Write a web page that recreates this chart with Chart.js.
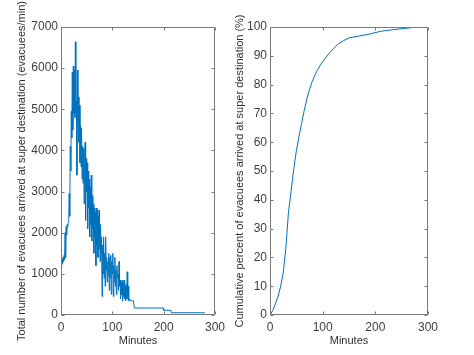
<!DOCTYPE html>
<html>
<head>
<meta charset="utf-8">
<script src="https://cdn.jsdelivr.net/npm/chart.js@4.4.1/dist/chart.umd.min.js"></script>
<style>
html,body{margin:0;padding:0;background:#fff;}
#wrap{position:relative;width:474px;height:355px;overflow:hidden;}
#c1{position:absolute;left:0;top:0;}
#c2{position:absolute;left:230px;top:0;}
</style>
</head>
<body>
<div id="wrap">
<canvas id="c1" width="230" height="355"></canvas>
<canvas id="c2" width="244" height="355"></canvas>
</div>
<script>
// ---- Left panel: arrivals per minute ----
const rateMinutes = [
  0,1,2,3,4,5,6,7,8,9,10,11,12,13,14,15,16,17,18,19,
  20,21,22,23,24,25,26,27,28,29,30,31,32,33,34,35,36,37,38,39,
  40,41,42,43,44,45,46,47,48,49,50,51,52,53,54,55,56,57,58,59,
  60,61,62,63,64,65,66,67,68,69,70,71,72,73,74,75,76,77,78,79,
  80,81,82,83,84,85,86,87,88,89,90,91,92,93,94,95,96,97,98,99,
  100,101,102,103,104,105,106,107,108,109,110,111,112,113,114,115,116,117,118,119,
  120,121,122,123,124,125,126,127,128,129,130,131,132,133,134,135,136,137,138,139,
  140,141,142,143,199,200,214,215,280
];
const rateValues = [
  0,1100,1350,1250,1400,1300,1450,1350,2000,1400,2150,1950,2200,2150,2250,2300,2950,2400,4100,3500,
  4950,4300,5900,4500,6050,4900,5950,4800,6640,4900,5200,3400,5950,4700,5300,4200,5100,3700,4600,3600,
  4550,3300,4100,3200,4050,2700,3950,4200,2300,3800,3000,3700,2100,3500,2600,3300,1900,3100,2200,3400,
  1800,2900,2100,2700,1500,2600,1900,2500,1200,2600,1700,2550,1400,2400,1600,2550,1300,2200,1500,1900,
  450,1700,1000,1900,900,1500,700,1900,1100,1400,800,1300,950,1500,600,1400,900,1450,500,1300,
  1000,1500,450,1200,800,1400,700,1100,500,1200,900,1000,600,1300,700,850,400,800,500,850,
  350,800,450,850,400,700,350,750,400,1050,400,700,350,360,380,350,355,350,350,350,
  345,340,340,170,170,115,115,55,55
];
const rateYTicks = [0,1000,2000,3000,4000,5000,6000,7000];
const minuteTicks = [0,100,200,300];

// ---- Right panel: cumulative percent ----
const cumMinutes = [0,5,10,15,20,25,30,35,40,45,50,55,60,65,70,75,80,85,90,95,100,110,120,130,140,150,170,190,210,230,250,270,282];
const cumPercent = [0,1.5,3.8,6.3,9.8,14.5,23,35.5,43,50.5,57,62,66.5,71,75,78.3,81,83.2,85,86.6,88,90.4,92.4,94.2,95.3,96.2,96.9,97.6,98.5,99,99.4,99.8,100];
const cumYTicks = [0,10,20,30,40,50,60,70,80,90,100];

const LINE = '#0072BD';
const TICKC = '#404040';
const FRAME = '#7a7a7a';
const FONT = '"Liberation Sans", Arial, Helvetica, sans-serif';

const boxPlugin = {
  id: 'box',
  afterDraw(chart) {
    const {ctx, chartArea: a, scales} = chart;
    ctx.save();
    ctx.strokeStyle = FRAME;
    ctx.lineWidth = 1;
    ctx.beginPath();
    const L = Math.round(a.left) + 0.5, R = Math.round(a.right) - 0.5;
    const T = Math.round(a.top) + 0.5, B = Math.round(a.bottom) - 0.5;
    ctx.rect(L, T, R - L, B - T);
    const len = 3;
    scales.x.ticks.forEach(t => {
      const x = Math.round(scales.x.getPixelForValue(t.value)) + 0.5;
      ctx.moveTo(x, B); ctx.lineTo(x, B - len);
      ctx.moveTo(x, T); ctx.lineTo(x, T + len);
    });
    scales.y.ticks.forEach(t => {
      const y = Math.round(scales.y.getPixelForValue(t.value)) + 0.5;
      ctx.moveTo(L, y); ctx.lineTo(L + len, y);
      ctx.moveTo(R, y); ctx.lineTo(R - len, y);
    });
    ctx.stroke();
    ctx.restore();
  }
};

function makeChart(id, xs, ys, yTicks, yMax, yTitle, yWidth, pad, titlePad) {
  const data = xs.map((x, i) => ({x: x, y: ys[i]}));
  return new Chart(document.getElementById(id), {
    type: 'line',
    data: {datasets: [{data: data, borderColor: LINE, borderWidth: 1, pointRadius: 0, tension: 0, fill: false}]},
    options: {
      responsive: false,
      animation: false,
      events: [],
      layout: {padding: pad},
      plugins: {legend: {display: false}, tooltip: {enabled: false}},
      scales: {
        x: {
          type: 'linear', min: 0, max: 300,
          afterBuildTicks: s => { s.ticks = minuteTicks.map(v => ({value: v})); },
          afterFit: s => { s.height = 40; },
          grid: {display: false, drawTicks: false},
          border: {display: false},
          ticks: {color: TICKC, font: {family: FONT, size: 12}, padding: 5, maxRotation: 0, callback: v => String(v)},
          title: {display: true, text: 'Minutes', color: '#303030', font: {family: FONT, size: 11}, padding: {top: 0, bottom: 7}}
        },
        y: {
          type: 'linear', min: 0, max: yMax,
          afterBuildTicks: s => { s.ticks = yTicks.map(v => ({value: v})); },
          afterFit: s => { s.width = yWidth; },
          grid: {display: false, drawTicks: false},
          border: {display: false},
          ticks: {color: TICKC, font: {family: FONT, size: 12}, padding: 3, callback: v => String(v)},
          title: {display: true, text: yTitle, color: '#303030', font: {family: FONT, size: 11}, padding: {top: titlePad, bottom: 0}}
        }
      }
    },
    plugins: [boxPlugin]
  });
}

makeChart('c1', rateMinutes, rateValues, rateYTicks, 7000,
  'Total number of evacuees arrived at super destination (evacuees/min)', 61,
  {top: 27, right: 11, left: 0, bottom: 0}, 15);
makeChart('c2', cumMinutes, cumPercent, cumYTicks, 100,
  'Cumulative percent of evacuees arrived at super destination (%)', 40,
  {top: 27, right: 46, left: 0, bottom: 0}, 3);
</script>
</body>
</html>
